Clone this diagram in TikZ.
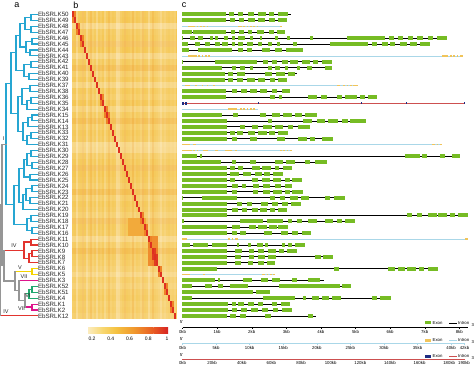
\documentclass[tikz,border=0pt]{standalone}
\usepackage{fontspec}
\setmainfont{Liberation Sans}
\usetikzlibrary{calc}
\definecolor{tblue}{RGB}{38,166,210}
\definecolor{tgray}{RGB}{150,150,150}
\definecolor{tred}{RGB}{226,52,46}
\definecolor{tyel}{RGB}{244,212,0}
\definecolor{tmag}{RGB}{222,20,140}
\definecolor{tgreen}{RGB}{32,168,110}
\definecolor{hmbase}{RGB}{245,196,72}
\definecolor{hmred}{RGB}{222,48,32}
\definecolor{hmor}{RGB}{238,130,40}
\definecolor{exg}{RGB}{118,188,36}
\definecolor{lblue}{RGB}{170,215,232}
\definecolor{yex}{RGB}{240,196,90}
\definecolor{rline}{RGB}{205,80,80}
\definecolor{navy}{RGB}{30,45,130}
\definecolor{cbA}{RGB}{252,236,190}
\definecolor{cbB}{RGB}{248,216,115}
\definecolor{cbC}{RGB}{245,194,65}
\definecolor{cbD}{RGB}{240,150,45}
\definecolor{cbE}{RGB}{232,90,35}
\definecolor{cbF}{RGB}{215,35,35}
\definecolor{labc}{RGB}{40,40,40}
\tikzset{
  tl/.style={line width=1.1pt,line cap=rect},
  lab/.style={anchor=west,inner sep=0pt,text=labc,font=\fontsize{6.2}{6.2}\selectfont},
  clab/.style={inner sep=0pt,text=labc,font=\fontsize{5.5}{5.5}\selectfont},
  panel/.style={inner sep=0pt,font=\fontsize{9}{9}\selectfont},
  intronln/.style={draw=black,line width=0.7pt},
  exonbx/.style={fill=exg},
  tick/.style={inner sep=0pt,font=\fontsize{4.3}{4.3}\selectfont},
}
\newcommand\tjx[7]{%
  \coordinate (#1tmp) at ($(#3)!0.5!(#4)$);%
  \coordinate (#1) at (#2,0 |- #1tmp);%
  \draw[tl,#6] (#3) -- (#3 -| #1);%
  \draw[tl,#7] (#4) -- (#4 -| #1);%
  \draw[tl,#5] (#3 -| #1) -- (#4 -| #1);%
}
\newcommand\tj[5]{\tjx{#2}{#3}{#4}{#5}{#1}{#1}{#1}}
\newcommand\gene[4]{%
  \pgfmathsetmacro\gy{14.5+5.91*#1}%
  \draw[intronln] (#2,\gy) -- (#3,\gy);%
  \foreach \a/\b in {#4} {\fill[exonbx] (\a,{\gy-2}) rectangle (\b,{\gy+2});}%
}
\newcommand\bgene[4]{%
  \pgfmathsetmacro\gy{14.5+5.91*#1}%
  \draw[lblue,line width=0.7pt] (#2,\gy) -- (#3,\gy);%
  \foreach \a/\b in {#4} {\fill[yex] (\a,{\gy-0.8}) rectangle (\b,{\gy+0.8});}%
}
\newcommand\hc[3]{\fill[#3] ({71.7+2.015*#2},{11.5+5.91*#1}) rectangle ++(2.015,5.91);}
\begin{document}
\begin{tikzpicture}[x=1pt,y=-1pt]
\useasboundingbox (0,0) rectangle (474,366);
\fill[white] (0,0) rectangle (474,366);
% panel letters
\node[panel] (pa) at (17,5) {a};
\node[panel] (pb) at (76,5) {b};
\node[panel] (pc) at (184,5) {c};
% labels and leaves
\foreach \n [count=\i from 0] in {50,49,48,47,46,45,44,43,42,41,40,39,37,38,36,35,34,15,14,13,33,32,31,30,29,28,27,26,25,24,23,22,21,20,19,18,17,16,11,10,9,8,7,6,5,3,52,51,4,1,2,12}{
  \node[lab] (t\i) at (37.8,{14.5+5.91*\i}) {EbSRLK\n};
  \coordinate (l\i) at (37,{14.5+5.91*\i});
}
% clade I (blue)
\tj{tblue}{a01}{31}{l0}{l1}
\tj{tblue}{a23}{31}{l2}{l3}
\tj{tblue}{a03}{25}{a01}{a23}
\tj{tblue}{a45}{32}{l4}{l5}
\tj{tblue}{a67}{30}{l6}{l7}
\tj{tblue}{a47}{26}{a45}{a67}
\tj{tblue}{a89}{31}{l8}{l9}
\tj{tblue}{aten}{29}{l10}{l11}
\tj{tblue}{a811}{24}{a89}{aten}
\tj{tblue}{a07}{20}{a03}{a47}
\tj{tblue}{cA}{16}{a07}{a811}
\tj{tblue}{b1213}{30}{l12}{l13}
\tj{tblue}{b1415}{31}{l14}{l15}
\tj{tblue}{b1416}{27}{b1415}{l16}
\tj{tblue}{b1216}{22}{b1213}{b1416}
\tj{tblue}{b1718}{32}{l17}{l18}
\tj{tblue}{b1719}{28}{b1718}{l19}
\tj{tblue}{b2021}{31}{l20}{l21}
\tj{tblue}{b2022}{27}{b2021}{l22}
\tj{tblue}{b1722}{23}{b1719}{b2022}
\tj{tblue}{cB}{18}{b1216}{b1722}
\tj{tblue}{cAB}{11}{cA}{cB}
\tj{tblue}{c2324}{31}{l23}{l24}
\tj{tblue}{c2526}{32}{l25}{l26}
\tj{tblue}{c2326}{27}{c2324}{c2526}
\tj{tblue}{c2728}{30}{l27}{l28}
\tj{tblue}{c2328}{24}{c2326}{c2728}
\tj{tblue}{c2930}{32}{l29}{l30}
\tj{tblue}{c3132}{30}{l31}{l32}
\tj{tblue}{c2932}{26}{c2930}{c3132}
\tj{tblue}{c2933}{23}{c2932}{l33}
\tj{tblue}{cCa}{19}{c2328}{c2933}
\tj{tblue}{c3435}{31}{l34}{l35}
\tj{tblue}{c3637}{32}{l36}{l37}
\tj{tblue}{cCb}{27}{c3435}{c3637}
\tj{tblue}{cC}{14}{cCa}{cCb}
\tj{tblue}{cI}{6}{cAB}{cC}
% clade IV red
\tj{tred}{d3839}{31}{l38}{l39}
\tj{tred}{d4041}{32}{l40}{l41}
\tj{tred}{d4042}{29}{d4041}{l42}
\tj{tred}{cIV}{24}{d3839}{d4042}
% V yellow
\tj{tyel}{cV}{32}{l43}{l44}
% VI green
\tj{tgreen}{g4647}{32}{l46}{l47}
\tj{tgreen}{cVI}{29}{g4647}{l48}
% VII magenta
\tj{tmag}{cVIIb}{32}{l49}{l50}
% gray backbone
\tjx{n1}{25}{cVI}{cVIIb}{tgray}{tgreen}{tmag}
\tjx{n2}{19}{l45}{n1}{tgray}{tmag}{tgray}
\tjx{n3}{15}{cV}{n2}{tgray}{tyel}{tgray}
\tjx{n4}{4}{cIV}{n3}{tgray}{tred}{tgray}
\tjx{n5}{2}{cI}{n4}{tgray}{tgray}{tgray}
\tjx{nroot}{0.6}{n5}{l51}{tgray}{tgray}{tred}
% clade labels
\node[clab] (kI) at (3.5,139) {I};
\node[clab] (kIV) at (14,246) {IV};
\node[clab] (kV) at (20,267.5) {V};
\node[clab] (kVIIa) at (24,276.5) {VII};
\node[clab] (kVI) at (28,296) {VI};
\node[clab] (kVIIb) at (21.5,309) {VII};
\node[clab] (kIVb) at (6,312) {IV};
% heatmap
\fill[hmbase] (71.7,11.5) rectangle (176.5,318.8);
\foreach \f [count=\k from 0] in {.1,.05,.5,.15,.1,.2,.05,.45,.15,.1,.25,.1,.45,.1,.2,.05,.4,.15,.1,.2,.1,.15,.55,.5,.2,.1,.15,.05,.1,.2,.1,.25,.1,.15,.3,.2,.1,.15,.5,.2,.1,.15,.2,.3,.5,.25,.35,.2,.15,.25,.2,.3}{
  \fill[white,opacity=\f*0.6] ({71.7+2.015*\k},11.5) rectangle ++(2.015,307.3);
  \fill[white,opacity=\f*0.6] (71.7,{11.5+5.91*\k}) rectangle ++(104.8,5.91);
}
\foreach \k in {5,9,18,26,30,35,40}{
  \fill[hmor,opacity=0.12] ({71.7+2.015*\k},11.5) rectangle ++(2.015,307.3);
  \fill[hmor,opacity=0.12] (71.7,{11.5+5.91*\k}) rectangle ++(104.8,5.91);
}
\foreach \r in {35,36,37}{\foreach \c in {28,...,36}{\hc{\r}{\c}{hmor!40!hmbase}}}
\foreach \r in {38,...,42}{\foreach \c in {38,...,42}{\hc{\r}{\c}{hmor!85!hmbase}}}
\foreach \r/\c in {0/1,1/0,2/3,3/2,4/5,5/4,14/15,15/14,17/18,18/17,34/35,35/34,36/37,37/36,38/39,39/38,40/41,41/40,40/42,42/40,41/42,42/41,43/44,44/43,46/47,47/46,49/50,50/49,16/17,17/16}{\hc{\r}{\c}{hmor}}
\foreach \r/\c in {40/41,41/40,41/42,42/41}{\hc{\r}{\c}{hmred!85!hmor}}
\foreach \i in {0,...,51}{\hc{\i}{\i}{hmred}}
% colour bar
\shade[left color=cbA,right color=cbB] (88,327.5) rectangle (102.2,333.5);
\shade[left color=cbB,right color=cbC] (102,327.5) rectangle (116.2,333.5);
\shade[left color=cbC,right color=cbD] (116,327.5) rectangle (135,333.5);
\shade[left color=cbD,right color=cbE] (134.8,327.5) rectangle (153.7,333.5);
\shade[left color=cbE,right color=cbF] (153.5,327.5) rectangle (168,333.5);
\foreach \v/\t [count=\i] in {0.2/0.2,0.4/0.4,0.6/0.6,0.8/0.8,1/1}{
  \node[tick,font=\fontsize{5}{5}\selectfont] (cb\i) at ({92+(\v-0.2)*93.75},338.5) {\t};
}
% panel c genes
\begin{scope}[xshift=175pt,x=0.33333pt]
\gene{0}{22}{348}{22/152,163/178,188/205,218/238,248/272,282/298,308/338}
\gene{1}{22}{336}{22/152,165/180,192/208,220/240,250/270,282/300,310/336}
\bgene{2}{22}{320}{40/60,65/70,75/80,85/90,95/100,190/200,205/210,215/220,225/230,235/240,245/250,315/320}
\gene{3}{22}{330}{22/50,55/152,167/180,192/206,218/232,245/268,282/296,305/330}
\gene{4}{22}{815}{22/24,45/60,70/85,105/115,120/130,148/160,170/180,190/210,225/235,255/262,300/310,335/345,405/415,515/630,643/658,670/685,700/715,725/745,760/775,785/815}
\gene{5}{22}{765}{22/40,60/75,90/105,120/135,140/160,170/180,190/205,215/235,250/260,280/290,305/315,355/365,465/580,590/605,620/640,645/660,675/695,705/725,735/765}
\gene{6}{22}{385}{22/42,70/170,190/205,215/230,262/285,300/320,333/385}
\bgene{7}{22}{865}{40/65,70/75,80/85,90/95,100/105,800/820,825/830,835/840,845/850,855/865}
\gene{8}{22}{470}{22/24,120/245,265/280,290/305,320/338,345/370,380/405,415/430,440/470}
\gene{9}{22}{470}{22/140,170/182,195/210,225/235,280/290,300/315,330/340,365/375,395/412,450/470}
\gene{10}{22}{365}{22/150,160/175,185/210,270/292,302/330,340/360}
\gene{11}{22}{335}{22/150,160/175,185/205,215/240,250/270,285/300,310/335}
\bgene{12}{22}{550}{30/45,60/65,80/85,95/100,115/120,485/495,505/510,515/520,525/530,535/550}
\gene{13}{22}{345}{22/152,170/185,198/215,225/245,255/275,290/305,320/345}
\gene{14}{22}{605}{22/152,285/300,312/322,400/425,438/455,485/500,510/545,555/570,578/605}
\pgfmathsetmacro\gy{14.5+5.91*15}
\draw[rline,line width=0.7pt] (22,\gy) -- (868,\gy);
\foreach \a/\b in {22/26,30/36}{\fill[navy] (\a,{\gy-1.5}) rectangle (\b,{\gy+1.5});}
\foreach \a in {250,560,695,868}{\fill[navy] ({\a-1.5},{\gy-1}) rectangle ({\a+1.5},{\gy+1});}
\bgene{16}{22}{248}{160/185,195/200,205/210,215/220,225/230,235/240}
\gene{17}{22}{425}{22/140,175/190,255/272,290/315,325/350,360/380,390/425}
\gene{18}{22}{572}{22/155,280/292,385/412,425/450,460/490,500/518,525/572}
\gene{19}{22}{405}{22/155,195/210,232/250,265/290,300/325,340/355,370/405}
\gene{20}{22}{340}{22/155,165/180,185/205,220/240,250/275,282/300,310/340}
\gene{21}{22}{475}{22/155,170/185,225/245,305/330,370/395,405/420,440/475}
\bgene{22}{22}{800}{22/45,55/62,770/780,785/790,795/800}
\bgene{23}{22}{350}{22/50,55/60,65/70,85/100,120/130,150/170,180/185,315/320,325/330,335/340,345/350}
\gene{24}{22}{855}{22/65,75/82,690/735,740/755,795/810,830/855}
\gene{25}{22}{455}{22/138,170/182,225/242,300/325,333/360,390/405,420/455}
\gene{26}{22}{352}{22/155,165/180,190/205,232/255,262/287,300/312,325/352}
\gene{27}{22}{325}{22/155,165/192,205/228,240/260,268/285,295/325}
\gene{28}{22}{382}{22/155,165/180,232/250,262/285,295/318,330/345,350/382}
\gene{29}{22}{350}{22/155,172/188,200/213,235/252,265/285,300/318,330/350}
\gene{30}{22}{385}{22/155,172/185,235/250,265/285,295/320,330/345,350/385}
\gene{31}{22}{510}{22/25,80/185,285/300,315/330,345/370,378/402,450/465,478/510}
\gene{32}{22}{378}{22/155,185/200,215/232,258/278,290/310,322/338,348/378}
\gene{33}{22}{335}{22/155,172/188,200/215,230/248,255/275,285/300,308/335}
\gene{34}{22}{878}{22/155,695/710,725/740,760/785,790/815,825/840,848/878}
\gene{35}{22}{540}{22/27,195/265,275/325,340/352,365/380,400/425,450/475,485/500,510/540}
\gene{36}{22}{340}{22/155,172/195,222/242,250/275,282/305,310/340}
\gene{37}{22}{408}{22/155,172/185,195/212,268/290,318/340,352/368,380/408}
\bgene{38}{22}{878}{22/35,160/165,170/175,180/190,870/878}
\gene{39}{22}{390}{22/45,55/100,110/155,185/192,220/228,245/265,270/278,320/330,338/350,360/390}
\gene{40}{22}{365}{22/155,180/200,222/238,248/268,278/302,312/328,335/365}
\gene{41}{22}{475}{22/155,180/198,222/238,250/270,280/302,420/438,445/475}
\gene{42}{22}{300}{22/155,180/198,218/235,248/268,275/300}
\gene{43}{22}{790}{22/125,478/492,638/660,668/690,697/722,733/748,760/790}
\bgene{44}{22}{300}{22/45,85/90,260/270,275/280,285/290,295/300}
\gene{45}{22}{448}{22/120,128/136,205/230,258/280,290/315,350/365,400/435}
\gene{46}{22}{528}{22/50,90/112,130/145,165/220,312/495,500/528}
\gene{47}{22}{285}{22/235,242/285}
\gene{48}{22}{648}{22/50,265/360,385/392,410/432,440/462,472/498,590/605,615/648}
\gene{49}{22}{345}{22/160,170/182,188/208,218/238,250/265,290/305,318/345}
\gene{50}{22}{350}{22/160,170/185,197/215,228/248,260/280,295/310,320/350}
\gene{51}{22}{422}{22/155,165/182,195/212,270/288,398/415}
\end{scope}
% scale bars
\draw[black,line width=0.6pt] (182.5,327.7) -- (468,327.7);
\foreach \k in {0,...,8}{
  \draw[black,line width=0.4pt] ({182.5+34.6*\k},327.7) -- ++(0,1.3);
  \node[tick] (sa\k) at ({182.5+34.6*\k},332) {\k kb};
}
\node[tick] (fa) at (181.5,322.3) {5'};
\fill[exg] (425,321.3) rectangle (431,324.3);
\node[tick,anchor=west] (ea) at (432.5,322.8) {Exon};
\draw[black,line width=0.6pt] (449,322.8) -- (457,322.8);
\node[tick,anchor=west] (ia) at (458,322.8) {Intron};
\node[tick,anchor=west] (ta) at (471.5,325) {3'};
\draw[lblue,line width=0.6pt] (182.5,343.3) -- (464.5,343.3);
\foreach \k in {0,5,10,15,20,25,30,35,40,42}{
  \draw[lblue,line width=0.4pt] ({182.5+6.714*\k},343.3) -- ++(0,1.3);
  \node[tick] (sb\k) at ({182.5+6.714*\k},347.8) {\k kb};
}
\node[tick] (fb) at (181.5,339.5) {5'};
\fill[yex] (425,338.5) rectangle (431,341.5);
\node[tick,anchor=west] (eb) at (432.5,339.8) {Exon};
\draw[lblue,line width=0.6pt] (449,339.8) -- (457,339.8);
\node[tick,anchor=west] (ib) at (458,339.8) {Intron};
\node[tick,anchor=west] (tb) at (471.5,342) {3'};
\draw[rline,line width=0.6pt] (182.5,359) -- (464.5,359);
\foreach \k in {0,20,40,60,80,100,120,140,160,180,190}{
  \draw[rline,line width=0.4pt] ({182.5+1.4816*\k},359) -- ++(0,1.3);
  \node[tick] (sc\k) at ({182.5+1.4816*\k},363.4) {\k kb};
}
\node[tick] (fc) at (181.5,355.5) {5'};
\fill[navy] (425,354.5) rectangle (431,357.5);
\node[tick,anchor=west] (ec) at (432.5,355.8) {Exon};
\draw[rline,line width=0.6pt] (449,355.8) -- (457,355.8);
\node[tick,anchor=west] (ic) at (458,355.8) {Intron};
\node[tick,anchor=west] (tc) at (471.5,358) {3'};
\end{tikzpicture}
\end{document}
